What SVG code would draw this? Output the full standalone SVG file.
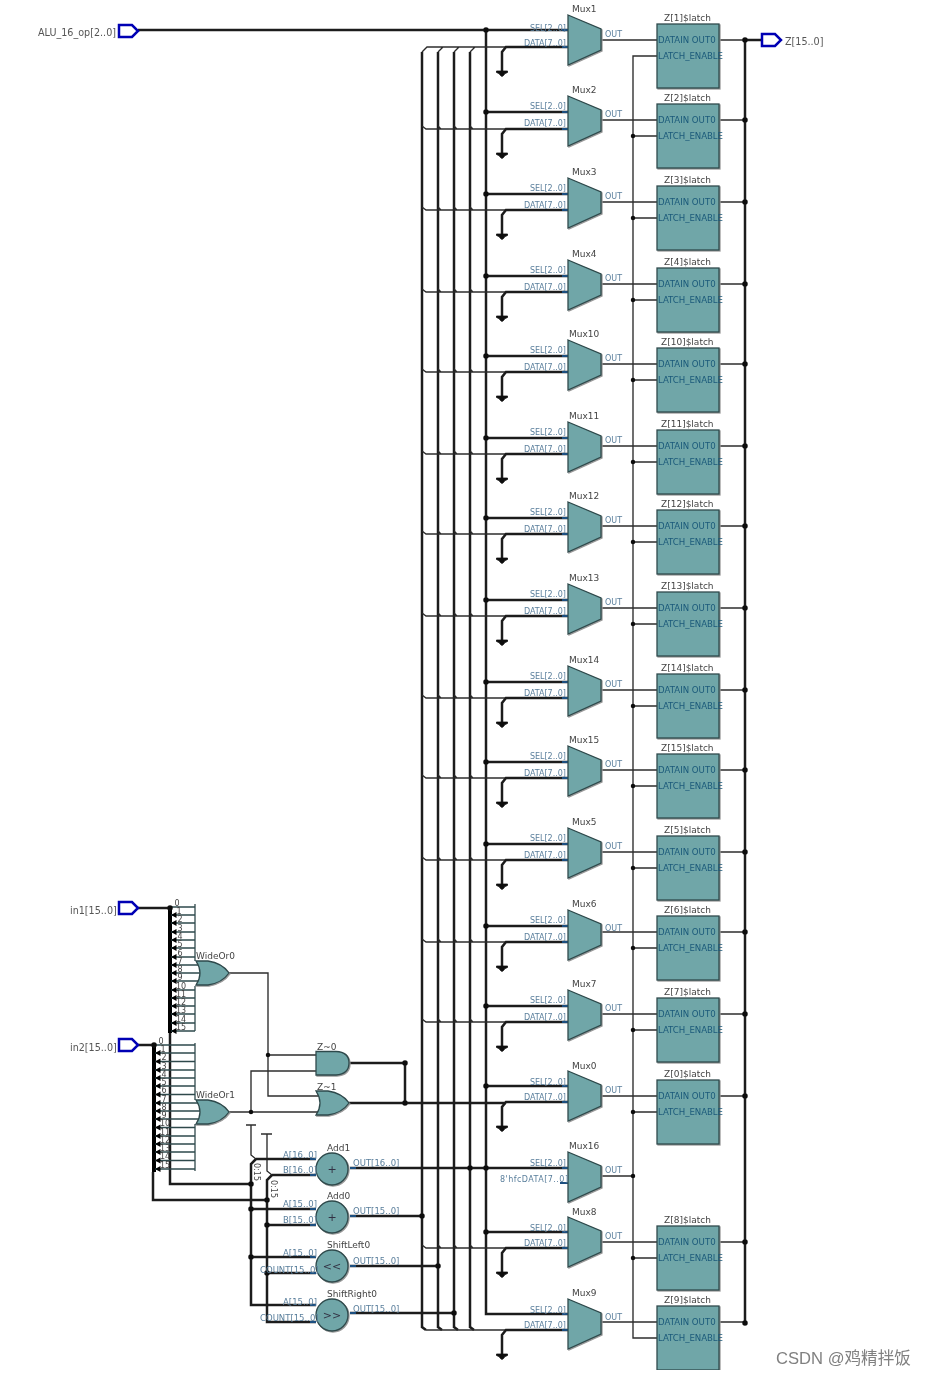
<svg xmlns="http://www.w3.org/2000/svg" width="927" height="1377" viewBox="0 0 927 1377">
<style>
text{font-family:"DejaVu Sans","Liberation Sans",sans-serif}
.shape{fill:#6fa6a8;stroke:#2f4a4c;stroke-width:1.3;filter:drop-shadow(1.5px 1.5px 0 #999)}
.pin{fill:#fff;stroke:#0000b4;stroke-width:2.5}
.n{font-size:9px;fill:#444}
.l{font-size:9.6px;fill:#555}
.p{font-size:8px;fill:#5a7f9c}
.q{font-size:8.5px;fill:#5a7f9c}
.m{font-size:8.6px;fill:#1c5a7a}
.d{font-size:8px;fill:#444;text-anchor:middle}
.e{text-anchor:end}
.th{fill:none;stroke:#2c2c2c;stroke-width:1.35}
.tk{fill:none;stroke:#1c1c1c;stroke-width:2.5}
.dots{fill:none;stroke:#111;stroke-width:5.5;stroke-linecap:round}
.tap{fill:none;stroke:#2f4a4c;stroke-width:1.3}
.stub{fill:none;stroke:#1f4f80;stroke-width:2}
.o{font-size:11px;fill:#334;text-anchor:middle}
</style>
<defs>
<filter id="soft" x="0" y="0" width="100%" height="100%"><feGaussianBlur stdDeviation="0.4"/></filter>
<polygon id="mux" points="0,0 33,14 33,35 0,50"/>
<rect id="latch" width="62" height="64"/>
<path id="gnd" d="M-5.5 0H5.5V1.5L3 2.5L1.5 4.5L0 5.5L-1.5 4.5L-3 2.5L-5.5 1.5Z" fill="#111" stroke="#111" stroke-width="0.8"/>
<path id="orsh" d="M0 -12H12Q26 -10 33 0Q26 10 12 12H0Q8 0 0 -12Z"/>
<path id="tri" d="M0 0L5.5 -3V3Z" fill="#000"/>
<path id="pinsh" d="M0 -6H13L19 0L13 6H0Z"/>
</defs>
<g filter="url(#soft)">
<g id="connectors">
<path class="tk" d="M138 30H568M486 30V1314H568"/>
<path class="tk" d="M422 52V1327l4 3M438 52V1327l4 3M454 52V1327l4 3M470 52V1327l4 3"/>
<path class="th" d="M422 52l5 -5H506M438 52l5 -5M454 52l5 -5M470 52l5 -5M426 1330H506"/>
<path class="th" d="M422 126l4 3H506M438 126l3 3M454 126l3 3M470 126l3 3M422 207l4 3H506M438 207l3 3M454 207l3 3M470 207l3 3M422 289l4 3H506M438 289l3 3M454 289l3 3M470 289l3 3M422 369l4 3H506M438 369l3 3M454 369l3 3M470 369l3 3M422 451l4 3H506M438 451l3 3M454 451l3 3M470 451l3 3M422 531l4 3H506M438 531l3 3M454 531l3 3M470 531l3 3M422 613l4 3H506M438 613l3 3M454 613l3 3M470 613l3 3M422 695l4 3H506M438 695l3 3M454 695l3 3M470 695l3 3M422 775l4 3H506M438 775l3 3M454 775l3 3M470 775l3 3M422 857l4 3H506M438 857l3 3M454 857l3 3M470 857l3 3M422 939l4 3H506M438 939l3 3M454 939l3 3M470 939l3 3M422 1019l4 3H506M438 1019l3 3M454 1019l3 3M470 1019l3 3M422 1245l4 3H506M438 1245l3 3M454 1245l3 3M470 1245l3 3"/>
<path class="tk" d="M486 112H568M486 194H568M486 276H568M486 356H568M486 438H568M486 518H568M486 600H568M486 682H568M486 762H568M486 844H568M486 926H568M486 1006H568M486 1086H568M486 1232H568"/>
<path class="tk" d="M568 47H506l-4 5V71M568 129H506l-4 5V153M568 210H506l-4 5V234M568 292H506l-4 5V316M568 372H506l-4 5V396M568 454H506l-4 5V478M568 534H506l-4 5V558M568 616H506l-4 5V640M568 698H506l-4 5V722M568 778H506l-4 5V802M568 860H506l-4 5V884M568 942H506l-4 5V966M568 1022H506l-4 5V1046M568 1102H506l-4 5V1126M568 1248H506l-4 5V1272M568 1330H506l-4 5V1354"/>
<g id="grounds"><use href="#gnd" x="502" y="71"/><use href="#gnd" x="502" y="153"/><use href="#gnd" x="502" y="234"/><use href="#gnd" x="502" y="316"/><use href="#gnd" x="502" y="396"/><use href="#gnd" x="502" y="478"/><use href="#gnd" x="502" y="558"/><use href="#gnd" x="502" y="640"/><use href="#gnd" x="502" y="722"/><use href="#gnd" x="502" y="802"/><use href="#gnd" x="502" y="884"/><use href="#gnd" x="502" y="966"/><use href="#gnd" x="502" y="1046"/><use href="#gnd" x="502" y="1126"/><use href="#gnd" x="502" y="1272"/><use href="#gnd" x="502" y="1354"/></g>
<path class="tk" d="M349 1063H405V1103M349 1103H506"/>
<path class="tk" d="M350 1168H568M350 1216H422M350 1266H438M350 1313H454"/>
<path class="th" d="M602 40H657M602 120H657M602 202H657M602 284H657M602 364H657M602 446H657M602 526H657M602 608H657M602 690H657M602 770H657M602 852H657M602 932H657M602 1014H657M602 1096H657M602 1176H633M602 1242H657M602 1322H657"/>
<path class="th" d="M657 56H633V1338H657M633 136H657M633 218H657M633 300H657M633 380H657M633 462H657M633 542H657M633 624H657M633 706H657M633 786H657M633 868H657M633 948H657M633 1030H657M633 1112H657M633 1258H657"/>
<path class="th" d="M719 120H745M719 202H745M719 284H745M719 364H745M719 446H745M719 526H745M719 608H745M719 690H745M719 770H745M719 852H745M719 932H745M719 1014H745M719 1096H745M719 1242H745M719 1322H745M719 40H745"/>
<path class="tk" d="M745 40V1323M745 40H761"/>
<path class="th" d="M228 973H268V1096H320M268 1055H316M228 1112H320M251 1112V1071H316"/>
<path class="th" d="M246 1125H256M251 1125V1155l5 4M261 1134H272M267 1134V1171l5 4"/>
<path class="tk" d="M256 1159H316M256 1159l-5 5V1305H316M272 1175H316M272 1175l-5 5V1322H316M251 1209H316M267 1225H316M251 1257H316M267 1273H316"/>
<path class="tk" d="M138 908H170M170 1033V1184H251M138 1045H153M153 1172V1200H267"/>
<path fill="none" stroke="#000" stroke-width="4" d="M170 907V1033M154 1045V1172"/>
<path class="tap" d="M171 907H195M171 915H195M171 923H195M171 932H195M171 940H195M171 948H195M171 957H195M171 965H200M171 973H202M171 981H200M171 990H195M171 998H195M171 1006H195M171 1014H195M171 1023H195M171 1031H195M195 904V961M195 986V1031"/>
<path class="tap" d="M155 1045H195M155 1053H195M155 1061.5H195M155 1070H195M155 1078H195M155 1086H195M155 1094.5H195M155 1103H200M155 1111H202M155 1119H200M155 1127.5H195M155 1136H195M155 1144H195M155 1152H195M155 1160.5H195M155 1169H195M195 1043V1100M195 1124V1171"/>
<g id="taps"><use href="#tri" x="171" y="915"/><use href="#tri" x="171" y="923"/><use href="#tri" x="171" y="932"/><use href="#tri" x="171" y="940"/><use href="#tri" x="171" y="948"/><use href="#tri" x="171" y="957"/><use href="#tri" x="171" y="965"/><use href="#tri" x="171" y="973"/><use href="#tri" x="171" y="981"/><use href="#tri" x="171" y="990"/><use href="#tri" x="171" y="998"/><use href="#tri" x="171" y="1006"/><use href="#tri" x="171" y="1014"/><use href="#tri" x="171" y="1023"/><use href="#tri" x="171" y="1031"/><use href="#tri" x="155" y="1053"/><use href="#tri" x="155" y="1061.5"/><use href="#tri" x="155" y="1070"/><use href="#tri" x="155" y="1078"/><use href="#tri" x="155" y="1086"/><use href="#tri" x="155" y="1094.5"/><use href="#tri" x="155" y="1103"/><use href="#tri" x="155" y="1111"/><use href="#tri" x="155" y="1119"/><use href="#tri" x="155" y="1127.5"/><use href="#tri" x="155" y="1136"/><use href="#tri" x="155" y="1144"/><use href="#tri" x="155" y="1152"/><use href="#tri" x="155" y="1160.5"/><use href="#tri" x="155" y="1169"/></g>
<path class="stub" d="M562 30H568M562 47H568M562 112H568M562 129H568M562 194H568M562 210H568M562 276H568M562 292H568M562 356H568M562 372H568M562 438H568M562 454H568M562 518H568M562 534H568M562 600H568M562 616H568M562 682H568M562 698H568M562 762H568M562 778H568M562 844H568M562 860H568M562 926H568M562 942H568M562 1006H568M562 1022H568M562 1086H568M562 1102H568M562 1168H568M560 1183H568M562 1232H568M562 1248H568M562 1314H568M562 1330H568M310 1159H316M310 1175H316M310 1209H316M310 1225H316M310 1257H316M310 1273H316M310 1305H316M310 1322H316M350 1168H356M350 1216H356M350 1266H356M350 1313H356"/>
<path class="dots" d="M486 30h0M486 112h0M486 194h0M486 276h0M486 356h0M486 438h0M486 518h0M486 600h0M486 682h0M486 762h0M486 844h0M486 926h0M486 1006h0M486 1086h0M486 1168h0M486 1232h0M470 1168h0M422 1216h0M438 1266h0M454 1313h0M745 40h0M745 120h0M745 202h0M745 284h0M745 364h0M745 446h0M745 526h0M745 608h0M745 690h0M745 770h0M745 852h0M745 932h0M745 1014h0M745 1096h0M745 1242h0M745 1323h0M251 1184h0M267 1200h0M251 1209h0M267 1225h0M251 1257h0M267 1273h0M405 1063h0M405 1103h0M170 908h0M154 1045h0"/>
<path class="dots" style="stroke-width:4.5" d="M633 136h0M633 218h0M633 300h0M633 380h0M633 462h0M633 542h0M633 624h0M633 706h0M633 786h0M633 868h0M633 948h0M633 1030h0M633 1112h0M633 1176h0M633 1258h0M268 1055h0M251 1112h0"/>
</g>
<g id="ALU_16_op"><use href="#pinsh" class="pin" x="119" y="31"/><text class="l" x="38" y="36">ALU_16_op[2..0]</text></g>
<g id="Z_out"><use href="#pinsh" class="pin" x="762" y="40"/><text class="l" x="785" y="45">Z[15..0]</text></g>
<g id="in1"><use href="#pinsh" class="pin" x="119" y="908"/><text class="l" x="70" y="914">in1[15..0]</text></g>
<g id="in2"><use href="#pinsh" class="pin" x="119" y="1045"/><text class="l" x="70" y="1051">in2[15..0]</text></g>
<g id="in1_bits"><text class="d" x="177" y="906">0</text><text class="d" x="179" y="914">1</text><text class="d" x="180" y="922">2</text><text class="d" x="180" y="931">3</text><text class="d" x="180" y="939">4</text><text class="d" x="180" y="947">5</text><text class="d" x="180" y="956">6</text><text class="d" x="180" y="964">7</text><text class="d" x="180" y="972">8</text><text class="d" x="180" y="980">9</text><text class="d" x="181" y="989">10</text><text class="d" x="181" y="997">11</text><text class="d" x="181" y="1005">12</text><text class="d" x="181" y="1013">13</text><text class="d" x="181" y="1022">14</text><text class="d" x="181" y="1030">15</text></g>
<g id="in2_bits"><text class="d" x="161" y="1044">0</text><text class="d" x="163" y="1052">1</text><text class="d" x="164" y="1060">2</text><text class="d" x="164" y="1069">3</text><text class="d" x="164" y="1077">4</text><text class="d" x="164" y="1085">5</text><text class="d" x="164" y="1093">6</text><text class="d" x="164" y="1102">7</text><text class="d" x="164" y="1110">8</text><text class="d" x="164" y="1118">9</text><text class="d" x="165" y="1126">10</text><text class="d" x="165" y="1135">11</text><text class="d" x="165" y="1143">12</text><text class="d" x="165" y="1151">13</text><text class="d" x="165" y="1159">14</text><text class="d" x="165" y="1168">15</text></g>
<g id="WideOr0"><use href="#orsh" class="shape" x="196" y="973"/><text class="n" x="196" y="959">WideOr0</text></g>
<g id="WideOr1"><use href="#orsh" class="shape" x="196" y="1112"/><text class="n" x="196" y="1098">WideOr1</text></g>
<g id="Z0"><path class="shape" d="M316 1051.5H336Q349 1052 349 1063Q349 1074 336 1075H316Z"/><text class="n" x="317" y="1050">Z~0</text></g>
<g id="Z1"><use href="#orsh" class="shape" x="316" y="1103"/><text class="n" x="317" y="1090">Z~1</text></g>
<text class="d" x="254" y="1163" style="text-anchor:start" transform="rotate(90 254 1163)">0:15</text>
<text class="d" x="271" y="1180" style="text-anchor:start" transform="rotate(90 271 1180)">0:15</text>
<g id="Add1"><circle class="shape" cx="332" cy="1169" r="16"/><text class="o" x="332" y="1173">+</text><text class="n" x="327" y="1151">Add1</text><text class="q" x="283" y="1158">A[16..0]</text><text class="q" x="283" y="1173">B[16..0]</text><text class="q" x="353" y="1166">OUT[16..0]</text></g>
<g id="Add0"><circle class="shape" cx="332" cy="1217" r="16"/><text class="o" x="332" y="1221">+</text><text class="n" x="327" y="1199">Add0</text><text class="q" x="283" y="1207">A[15..0]</text><text class="q" x="283" y="1223">B[15..0]</text><text class="q" x="353" y="1214">OUT[15..0]</text></g>
<g id="ShiftLeft0"><circle class="shape" cx="332" cy="1266" r="16"/><text class="o" x="332" y="1270">&lt;&lt;</text><text class="n" x="327" y="1248">ShiftLeft0</text><text class="q" x="283" y="1256">A[15..0]</text><text class="q" x="260" y="1273">COUNT[15..0]</text><text class="q" x="353" y="1264">OUT[15..0]</text></g>
<g id="ShiftRight0"><circle class="shape" cx="332" cy="1315" r="16"/><text class="o" x="332" y="1319">&gt;&gt;</text><text class="n" x="327" y="1297">ShiftRight0</text><text class="q" x="283" y="1305">A[15..0]</text><text class="q" x="260" y="1321">COUNT[15..0]</text><text class="q" x="353" y="1312">OUT[15..0]</text></g>
<g id="Mux1"><use href="#mux" class="shape" x="568" y="15"/><text class="n" x="572" y="12">Mux1</text><text class="p e" x="566" y="31">SEL[2..0]</text><text class="p e" x="566" y="46">DATA[7..0]</text><text class="p" x="605" y="37">OUT</text></g>
<g id="Mux2"><use href="#mux" class="shape" x="568" y="96"/><text class="n" x="572" y="93">Mux2</text><text class="p e" x="566" y="109">SEL[2..0]</text><text class="p e" x="566" y="126">DATA[7..0]</text><text class="p" x="605" y="117">OUT</text></g>
<g id="Mux3"><use href="#mux" class="shape" x="568" y="178"/><text class="n" x="572" y="175">Mux3</text><text class="p e" x="566" y="191">SEL[2..0]</text><text class="p e" x="566" y="208">DATA[7..0]</text><text class="p" x="605" y="199">OUT</text></g>
<g id="Mux4"><use href="#mux" class="shape" x="568" y="260"/><text class="n" x="572" y="257">Mux4</text><text class="p e" x="566" y="273">SEL[2..0]</text><text class="p e" x="566" y="290">DATA[7..0]</text><text class="p" x="605" y="281">OUT</text></g>
<g id="Mux10"><use href="#mux" class="shape" x="568" y="340"/><text class="n" x="569" y="337">Mux10</text><text class="p e" x="566" y="353">SEL[2..0]</text><text class="p e" x="566" y="370">DATA[7..0]</text><text class="p" x="605" y="361">OUT</text></g>
<g id="Mux11"><use href="#mux" class="shape" x="568" y="422"/><text class="n" x="569" y="419">Mux11</text><text class="p e" x="566" y="435">SEL[2..0]</text><text class="p e" x="566" y="452">DATA[7..0]</text><text class="p" x="605" y="443">OUT</text></g>
<g id="Mux12"><use href="#mux" class="shape" x="568" y="502"/><text class="n" x="569" y="499">Mux12</text><text class="p e" x="566" y="515">SEL[2..0]</text><text class="p e" x="566" y="532">DATA[7..0]</text><text class="p" x="605" y="523">OUT</text></g>
<g id="Mux13"><use href="#mux" class="shape" x="568" y="584"/><text class="n" x="569" y="581">Mux13</text><text class="p e" x="566" y="597">SEL[2..0]</text><text class="p e" x="566" y="614">DATA[7..0]</text><text class="p" x="605" y="605">OUT</text></g>
<g id="Mux14"><use href="#mux" class="shape" x="568" y="666"/><text class="n" x="569" y="663">Mux14</text><text class="p e" x="566" y="679">SEL[2..0]</text><text class="p e" x="566" y="696">DATA[7..0]</text><text class="p" x="605" y="687">OUT</text></g>
<g id="Mux15"><use href="#mux" class="shape" x="568" y="746"/><text class="n" x="569" y="743">Mux15</text><text class="p e" x="566" y="759">SEL[2..0]</text><text class="p e" x="566" y="776">DATA[7..0]</text><text class="p" x="605" y="767">OUT</text></g>
<g id="Mux5"><use href="#mux" class="shape" x="568" y="828"/><text class="n" x="572" y="825">Mux5</text><text class="p e" x="566" y="841">SEL[2..0]</text><text class="p e" x="566" y="858">DATA[7..0]</text><text class="p" x="605" y="849">OUT</text></g>
<g id="Mux6"><use href="#mux" class="shape" x="568" y="910"/><text class="n" x="572" y="907">Mux6</text><text class="p e" x="566" y="923">SEL[2..0]</text><text class="p e" x="566" y="940">DATA[7..0]</text><text class="p" x="605" y="931">OUT</text></g>
<g id="Mux7"><use href="#mux" class="shape" x="568" y="990"/><text class="n" x="572" y="987">Mux7</text><text class="p e" x="566" y="1003">SEL[2..0]</text><text class="p e" x="566" y="1020">DATA[7..0]</text><text class="p" x="605" y="1011">OUT</text></g>
<g id="Mux0"><use href="#mux" class="shape" x="568" y="1071"/><text class="n" x="572" y="1069">Mux0</text><text class="p e" x="566" y="1085">SEL[2..0]</text><text class="p e" x="566" y="1100">DATA[7..0]</text><text class="p" x="605" y="1093">OUT</text></g>
<g id="Mux16"><use href="#mux" class="shape" x="568" y="1152"/><text class="n" x="569" y="1149">Mux16</text><text class="p e" x="566" y="1166">SEL[2..0]</text><text class="p e" x="568" y="1182" textLength="68">8'hfcDATA[7..0]</text><text class="p" x="605" y="1173">OUT</text></g>
<g id="Mux8"><use href="#mux" class="shape" x="568" y="1217"/><text class="n" x="572" y="1215">Mux8</text><text class="p e" x="566" y="1231">SEL[2..0]</text><text class="p e" x="566" y="1246">DATA[7..0]</text><text class="p" x="605" y="1239">OUT</text></g>
<g id="Mux9"><use href="#mux" class="shape" x="568" y="1299"/><text class="n" x="572" y="1296">Mux9</text><text class="p e" x="566" y="1313">SEL[2..0]</text><text class="p e" x="566" y="1328">DATA[7..0]</text><text class="p" x="605" y="1320">OUT</text></g>
<g id="Z1_latch"><use href="#latch" class="shape" x="657" y="24"/><text class="n" x="664" y="21">Z[1]$latch</text><text class="m" x="658" y="43">DATAIN OUT0</text><text class="m" x="658" y="59" textLength="65">LATCH_ENABLE</text></g>
<g id="Z2_latch"><use href="#latch" class="shape" x="657" y="104"/><text class="n" x="664" y="101">Z[2]$latch</text><text class="m" x="658" y="123">DATAIN OUT0</text><text class="m" x="658" y="139" textLength="65">LATCH_ENABLE</text></g>
<g id="Z3_latch"><use href="#latch" class="shape" x="657" y="186"/><text class="n" x="664" y="183">Z[3]$latch</text><text class="m" x="658" y="205">DATAIN OUT0</text><text class="m" x="658" y="221" textLength="65">LATCH_ENABLE</text></g>
<g id="Z4_latch"><use href="#latch" class="shape" x="657" y="268"/><text class="n" x="664" y="265">Z[4]$latch</text><text class="m" x="658" y="287">DATAIN OUT0</text><text class="m" x="658" y="303" textLength="65">LATCH_ENABLE</text></g>
<g id="Z10_latch"><use href="#latch" class="shape" x="657" y="348"/><text class="n" x="661" y="345">Z[10]$latch</text><text class="m" x="658" y="367">DATAIN OUT0</text><text class="m" x="658" y="383" textLength="65">LATCH_ENABLE</text></g>
<g id="Z11_latch"><use href="#latch" class="shape" x="657" y="430"/><text class="n" x="661" y="427">Z[11]$latch</text><text class="m" x="658" y="449">DATAIN OUT0</text><text class="m" x="658" y="465" textLength="65">LATCH_ENABLE</text></g>
<g id="Z12_latch"><use href="#latch" class="shape" x="657" y="510"/><text class="n" x="661" y="507">Z[12]$latch</text><text class="m" x="658" y="529">DATAIN OUT0</text><text class="m" x="658" y="545" textLength="65">LATCH_ENABLE</text></g>
<g id="Z13_latch"><use href="#latch" class="shape" x="657" y="592"/><text class="n" x="661" y="589">Z[13]$latch</text><text class="m" x="658" y="611">DATAIN OUT0</text><text class="m" x="658" y="627" textLength="65">LATCH_ENABLE</text></g>
<g id="Z14_latch"><use href="#latch" class="shape" x="657" y="674"/><text class="n" x="661" y="671">Z[14]$latch</text><text class="m" x="658" y="693">DATAIN OUT0</text><text class="m" x="658" y="709" textLength="65">LATCH_ENABLE</text></g>
<g id="Z15_latch"><use href="#latch" class="shape" x="657" y="754"/><text class="n" x="661" y="751">Z[15]$latch</text><text class="m" x="658" y="773">DATAIN OUT0</text><text class="m" x="658" y="789" textLength="65">LATCH_ENABLE</text></g>
<g id="Z5_latch"><use href="#latch" class="shape" x="657" y="836"/><text class="n" x="664" y="833">Z[5]$latch</text><text class="m" x="658" y="855">DATAIN OUT0</text><text class="m" x="658" y="871" textLength="65">LATCH_ENABLE</text></g>
<g id="Z6_latch"><use href="#latch" class="shape" x="657" y="916"/><text class="n" x="664" y="913">Z[6]$latch</text><text class="m" x="658" y="935">DATAIN OUT0</text><text class="m" x="658" y="951" textLength="65">LATCH_ENABLE</text></g>
<g id="Z7_latch"><use href="#latch" class="shape" x="657" y="998"/><text class="n" x="664" y="995">Z[7]$latch</text><text class="m" x="658" y="1017">DATAIN OUT0</text><text class="m" x="658" y="1033" textLength="65">LATCH_ENABLE</text></g>
<g id="Z0_latch"><use href="#latch" class="shape" x="657" y="1080"/><text class="n" x="664" y="1077">Z[0]$latch</text><text class="m" x="658" y="1099">DATAIN OUT0</text><text class="m" x="658" y="1115" textLength="65">LATCH_ENABLE</text></g>
<g id="Z8_latch"><use href="#latch" class="shape" x="657" y="1226"/><text class="n" x="664" y="1223">Z[8]$latch</text><text class="m" x="658" y="1245">DATAIN OUT0</text><text class="m" x="658" y="1261" textLength="65">LATCH_ENABLE</text></g>
<g id="Z9_latch"><use href="#latch" class="shape" x="657" y="1306"/><text class="n" x="664" y="1303">Z[9]$latch</text><text class="m" x="658" y="1325">DATAIN OUT0</text><text class="m" x="658" y="1341" textLength="65">LATCH_ENABLE</text></g>
</g>
<text x="776" y="1364" font-size="16.6" fill="#808080" style="font-family:'Liberation Sans','Noto Sans CJK SC',sans-serif">CSDN @鸡精拌饭</text>
</svg>
